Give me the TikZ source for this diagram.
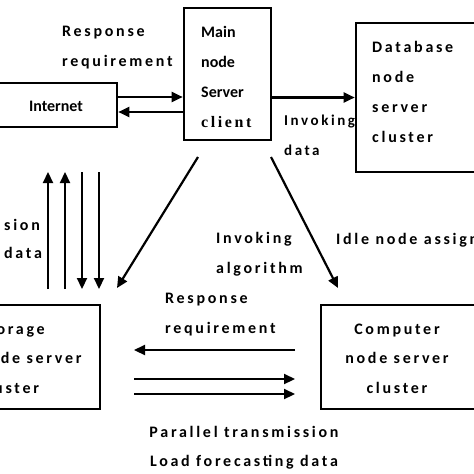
\documentclass[tikz,border=0pt]{standalone}
\usepackage{fontspec}
\setmainfont{Carlito}
\newfontfamily\spc[LetterSpace=17]{Carlito}
\newfontfamily\spcs[LetterSpace=16]{Liberation Serif}
\usetikzlibrary{arrows.meta,calc}
\begin{document}
\begin{tikzpicture}[x=1pt,y=-1pt,
  box/.style={draw,line width=2.6pt,inner sep=0pt},
  arr/.style={line width=2.2pt,-{Triangle[length=11pt,width=10pt]}},
  lbl/.style={inner sep=0pt,anchor=base west,align=left,font=\spc\bfseries\fontsize{16}{29.5}\selectfont},
  plain/.style={inner sep=0pt,anchor=base west,align=left,font=\bfseries\fontsize{16}{30}\selectfont},
]
\useasboundingbox (0,0) rectangle (474,474);
\clip (0,0) rectangle (474,474);
% boxes
\node[box,minimum width=122pt,minimum height=44pt] (inet) at (56,105) {};
\node[box,minimum width=87pt,minimum height=132pt] (main) at (227.5,74) {};
\node[box,minimum width=144pt,minimum height=149pt] (db) at (428,97.5) {};
\node[box,minimum width=160pt,minimum height=104pt] (stor) at (20,357) {};
\node[box,minimum width=159pt,minimum height=104pt] (comp) at (400.5,357) {};
% box texts (base anchor = baseline of last line)
\node[plain,anchor=base] (inettxt) at (56,111) {Internet};
\node[plain] (maintxt) at (201,97) {Main\\node\\Server};
\node[inner sep=0pt,anchor=base west,font=\spcs\bfseries\fontsize{16}{30}\selectfont] (clienttxt) at (201,127) {client};
\node[lbl,font=\spc\bfseries\fontsize{16}{29.7}\selectfont] (dbtxt) at (372,142) {Database\\node\\server\\cluster};
\node[lbl] (stortxt) at (-22,393) {Storage\\node server\\cluster};
\node[lbl,anchor=base,align=center] (comptxt) at (397,393) {Computer\\node server\\cluster};
% labels
\node[lbl] (l1) at (62,66) {Response\\requirement};
\node[lbl,font=\spc\bfseries\fontsize{15}{30}\selectfont] (l2) at (284,155) {Invoking\\data};
\node[lbl,font=\spc\bfseries\fontsize{16}{28}\selectfont] (l3) at (4,258) {sion\\data};
\node[lbl] (l4) at (216,273) {Invoking\\algorithm};
\node[lbl] (l5) at (336,244) {Idle node assignment};
\node[lbl] (l6) at (165,333) {Response\\requirement};
\node[lbl,anchor=base,align=center,font=\spc\bfseries\fontsize{16}{29}\selectfont] (l7) at (244,466) {Parallel transmission\\Load forecasting data};
% connectors top
\coordinate (a1) at ([yshift=8pt]inet.east);
\coordinate (a2) at ([yshift=-7pt]inet.east);
\draw[arr] (a1) -- (a1 -| main.west);
\draw[arr] (a2 -| main.west) -- (a2);
\draw[arr] (main.east |- db.west) -- (db.west);
% diagonals
\coordinate (d1s) at (198,157);
\coordinate (d1e) at (117,288);
\coordinate (d2s) at (271,157);
\coordinate (d2e) at (338,288);
\draw[arr] (d1s) -- (d1e);
\draw[arr] (d2s) -- (d2e);
% vertical arrows
\foreach \x/\n in {48/v1,65/v2,82/v3,99/v4}{
  \coordinate (\n t) at (\x,172);
  \coordinate (\n b) at (\x,289);
}
\draw[arr] (v1b) -- (v1t);
\draw[arr] (v2b) -- (v2t);
\draw[arr] (v3t) -- (v3b);
\draw[arr] (v4t) -- (v4b);
% bottom horizontal arrows
\coordinate (h1l) at (134,350);
\coordinate (h1r) at (295,350);
\coordinate (h2l) at (134,379);
\coordinate (h2r) at (295,379);
\coordinate (h3l) at (134,394);
\coordinate (h3r) at (295,394);
\draw[arr] (h1r) -- (h1l);
\draw[arr] (h2l) -- (h2r);
\draw[arr] (h3l) -- (h3r);
\end{tikzpicture}
\end{document}
